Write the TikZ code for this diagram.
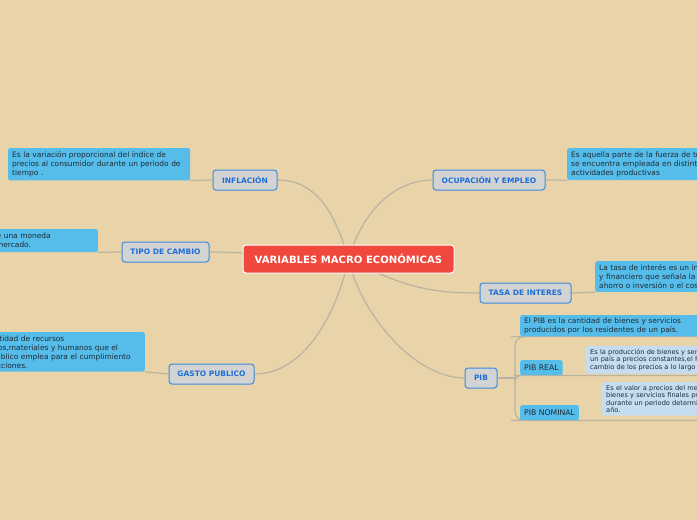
\documentclass[tikz,border=0pt]{standalone}
\usepackage{fontspec}
\setmainfont{DejaVu Sans}
\usetikzlibrary{calc}
\definecolor{paper}{HTML}{E8D4A8}
\definecolor{rootfill}{HTML}{F0483C}
\definecolor{topicfill}{HTML}{D3D3D3}
\definecolor{topicborder}{HTML}{3D8AE0}
\definecolor{topicink}{HTML}{1B6FD6}
\definecolor{notefill}{HTML}{56BDEB}
\definecolor{softfill}{HTML}{C4DDF0}
\definecolor{noteink}{HTML}{1E2A33}
\definecolor{branch}{HTML}{B9B3A3}
\pgfdeclarelayer{bg}
\pgfsetlayers{bg,main}

\begin{document}
\begin{tikzpicture}[
  x=1pt, y=-1pt,
  root/.style={draw=white, fill=rootfill, text=white, rounded corners=3pt, line width=1pt,
    font=\fontsize{10.1}{12}\selectfont\bfseries, minimum width=211pt, minimum height=28pt},
  topic/.style={draw=topicborder, fill=topicfill, text=topicink, rounded corners=3pt, line width=1pt,
    font=\fontsize{7.5}{9}\selectfont\bfseries, minimum height=20pt, inner sep=2pt},
  note/.style={fill=notefill, text=noteink, rounded corners=2pt, align=left,
    inner xsep=4pt, inner ysep=3.3pt, font=\fontsize{7.45}{9}\selectfont},
  softnote/.style={note, fill=softfill, inner ysep=2.8pt, font=\fontsize{6.6}{7.6}\selectfont},
  subtopic/.style={fill=notefill, text=noteink, rounded corners=2pt, anchor=north west,
    font=\fontsize{7.7}{9}\selectfont, minimum height=15pt, inner xsep=4pt, inner ysep=1pt},
  link/.style={draw=branch, line width=1.2pt}
]
\useasboundingbox (0,0) rectangle (697,520);
\begin{pgfonlayer}{bg}
  \fill[paper] (0,0) rectangle (697,520);
\end{pgfonlayer}
\clip (0,0) rectangle (697,520);

% centro y ramas
\node[root] (main) at (348.5,259) {VARIABLES MACRO ECONÓMICAS};
\node[topic, minimum width=64pt] (inflacion) at (245,180) {INFLACIÓN};
\node[topic, minimum width=87pt] (cambio) at (165.5,252) {TIPO DE CAMBIO};
\node[topic, minimum width=85pt] (gasto) at (211.5,374) {GASTO PUBLICO};
\node[topic, minimum width=112pt] (ocupacion) at (489,180) {OCUPACIÓN Y EMPLEO};
\node[topic, minimum width=91pt] (tasa) at (525.5,293) {TASA DE INTERES};
\node[topic, minimum width=32pt] (pib) at (481,378) {PIB};

% notas
\node[note, anchor=north west, text width=174pt] (dinflacion) at (8,148)
  {Es la variación proporcional del índice de\\precios al consumidor durante un periodo de\\tiempo .};
\node[note, anchor=north east, text width=178pt] (dcambio) at (98,229)
  {Es el precio relativo de una moneda\\respecto a otra en el mercado.};
\node[note, anchor=north east, text width=175pt] (dgasto) at (145,332)
  {Es la cantidad de recursos\\financieros,materiales y humanos que el\\sector público emplea para el cumplimiento\\de sus acciones.};
\node[note, anchor=north west, text width=200pt] (docupacion) at (567,148)
  {Es aquella parte de la fuerza de trabajo que\\se encuentra empleada en distintas\\actividades productivas};
\node[note, anchor=north west, text width=200pt] (dtasa) at (595,261)
  {La tasa de interés es un indicador económico\\y financiero que señala la rentabilidad de un\\ahorro o inversión o el costo de un crédito.};
\node[note, anchor=north west, text width=176pt, inner ysep=2.5pt] (dpib) at (520,315)
  {El PIB es la cantidad de bienes y servicios\\producidos por los residentes de un país.};
\node[subtopic] (pibreal) at (520,360) {PIB REAL};
\node[subtopic] (pibnominal) at (520,405) {PIB NOMINAL};
\node[softnote, anchor=north west, text width=200pt] (dpibreal) at (586,346)
  {Es la producción de bienes y servicios de\\un país a precios constantes,el PIB real elimina el\\cambio de los precios a lo largo del tiempo.};
\node[softnote, anchor=north west, text width=200pt] (dpibnominal) at (602,382)
  {Es el valor a precios del mercado de los\\bienes y servicios finales producidos en un país\\durante un periodo determinado, normalmente un\\año.};

\coordinate (fork) at (515,378);

\begin{pgfonlayer}{bg}
  \draw[link] (main.center) .. controls +(-14,-48) and +(38,0) .. (inflacion.east);
  \draw[link] (main.center) .. controls +(14,-48) and +(-38,0) .. (ocupacion.west);
  \draw[link] (main.center) .. controls +(-60,-2) and +(40,0) .. (cambio.east);
  \draw[link] (main.center) .. controls +(-12,55) and +(50,0) .. (gasto.east);
  \draw[link] (main.center) .. controls +(12,55) and +(-50,0) .. (pib.west);
  \draw[link] (main.center) .. controls +(55,28) and +(-50,0) .. (tasa.west);
  \draw[link] (inflacion.west) -- (dinflacion.south east);
  \draw[link] (cambio.west) -- (dcambio.south east);
  \draw[link] (gasto.west) -- (dgasto.south east);
  \draw[link] (ocupacion.east) -- (docupacion.south west);
  \draw[link] (tasa.east) -- (dtasa.south west);
  \draw[link] (pib.east) -- (fork);
  \draw[link, rounded corners=9pt] (fork) |- (dpib.south west) -- (dpib.south east);
  \draw[link, rounded corners=6pt] (fork) |- (pibreal.south west) -- (pibreal.south west -| dpibreal.east);
  \draw[link, rounded corners=9pt] (fork) |- (pibnominal.south west) -- (pibnominal.south west -| dpibnominal.east);
\end{pgfonlayer}
\end{tikzpicture}
\end{document}
